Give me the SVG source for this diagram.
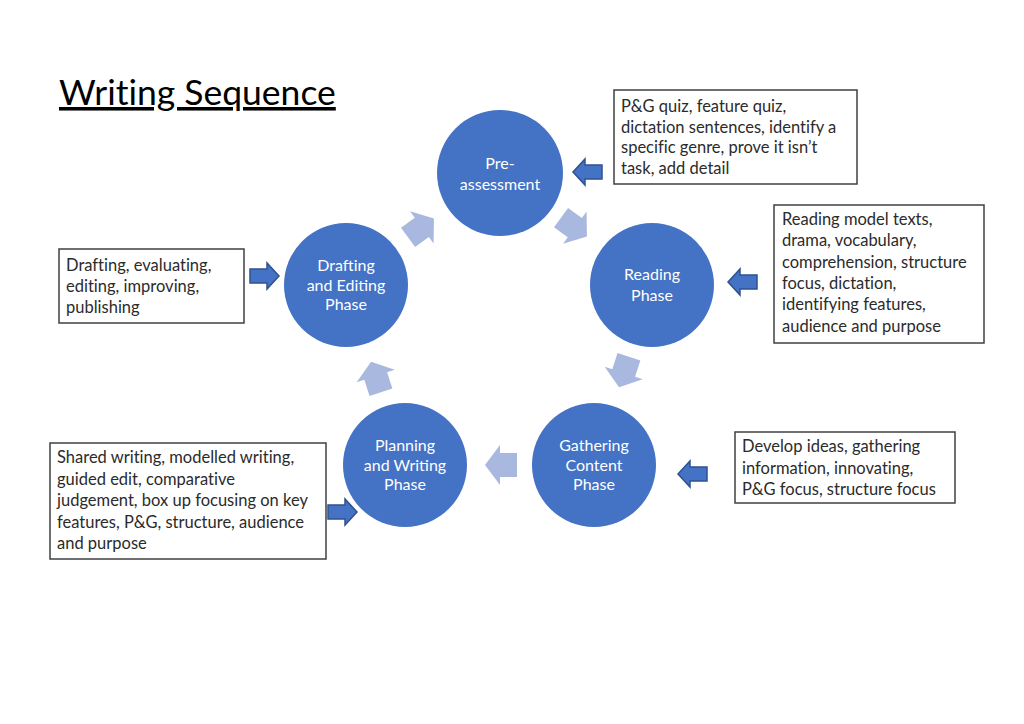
<svg xmlns="http://www.w3.org/2000/svg" width="1024" height="724" viewBox="0 0 1024 724">
<style>
.c{fill:#4472C4}
.ct{font-family:Lato,"Liberation Sans",sans-serif;font-size:16px;fill:#fff;text-anchor:middle}
.b{fill:#fff;stroke:#404040;stroke-width:1.5}
.bt{font-family:Lato,"Liberation Sans",sans-serif;font-size:16.5px;fill:#2b2b2b;font-variant-ligatures:none}
.la{fill:#A8B8DE}
.da{fill:#4472C4;stroke:#2F528F;stroke-width:1.5;stroke-linejoin:miter}
</style>
<defs>
<path id="light" d="M-16,-12 L1,-12 L1,-20 L16,0 L1,20 L1,12 L-16,12 Z"/>
<path id="darkL" d="M0,0 L12,-13 L12,-7 L29,-7 L29,7 L12,7 L12,13 Z"/>
<path id="darkR" d="M0,0 L-12,-13 L-12,-7 L-29,-7 L-29,7 L-12,7 L-12,13 Z"/>
</defs>
<rect width="1024" height="724" fill="#fff"/>
<text x="59" y="105" font-family="Lato,'Liberation Sans',sans-serif" font-size="35.5" fill="#000" text-decoration="underline" style="font-variant-ligatures:none">Writing Sequence</text>

<g id="connectors">
<use href="#light" class="la" transform="translate(574,227) rotate(36)"/>
<use href="#light" class="la" transform="translate(624,372) rotate(108)"/>
<use href="#light" class="la" transform="translate(501,465) rotate(180)"/>
<use href="#light" class="la" transform="translate(376,377) rotate(-108)"/>
<use href="#light" class="la" transform="translate(421,228) rotate(-36)"/>
<use href="#darkL" class="da" transform="translate(573,172)"/>
<use href="#darkL" class="da" transform="translate(728,282)"/>
<use href="#darkL" class="da" transform="translate(678,474)"/>
<use href="#darkR" class="da" transform="translate(279,276)"/>
<use href="#darkR" class="da" transform="translate(357,512)"/>
</g>

<g id="pre">
<circle class="c" cx="500" cy="173" r="63"/>
<text class="ct" x="500" y="169">Pre-</text>
<text class="ct" x="500" y="190">assessment</text>
</g>
<g id="reading">
<circle class="c" cx="652" cy="285" r="62"/>
<text class="ct" x="652" y="280">Reading</text>
<text class="ct" x="652" y="301">Phase</text>
</g>
<g id="gathering">
<circle class="c" cx="594" cy="465" r="62"/>
<text class="ct" x="594" y="451">Gathering</text>
<text class="ct" x="594" y="471">Content</text>
<text class="ct" x="594" y="490">Phase</text>
</g>
<g id="planning">
<circle class="c" cx="405" cy="465" r="62"/>
<text class="ct" x="405" y="451">Planning</text>
<text class="ct" x="405" y="471">and Writing</text>
<text class="ct" x="405" y="490">Phase</text>
</g>
<g id="drafting">
<circle class="c" cx="346" cy="285" r="62"/>
<text class="ct" x="346" y="271">Drafting</text>
<text class="ct" x="346" y="291">and Editing</text>
<text class="ct" x="346" y="310">Phase</text>
</g>

<g id="box-pre">
<rect class="b" x="614" y="90" width="243" height="94"/>
<text class="bt" x="621" y="112">P&amp;G quiz, feature quiz,</text>
<text class="bt" x="621" y="132.7">dictation sentences, identify a</text>
<text class="bt" x="621" y="153.3">specific genre, prove it isn’t</text>
<text class="bt" x="621" y="174">task, add detail</text>
</g>
<g id="box-reading">
<rect class="b" x="774" y="205" width="210" height="138"/>
<text class="bt" x="782" y="225">Reading model texts,</text>
<text class="bt" x="782" y="246.3">drama, vocabulary,</text>
<text class="bt" x="782" y="267.6">comprehension, structure</text>
<text class="bt" x="782" y="289">focus, dictation,</text>
<text class="bt" x="782" y="310.3">identifying features,</text>
<text class="bt" x="782" y="331.7">audience and purpose</text>
</g>
<g id="box-gathering">
<rect class="b" x="735" y="432" width="220" height="71"/>
<text class="bt" x="742" y="452">Develop ideas, gathering</text>
<text class="bt" x="742" y="473.5">information, innovating,</text>
<text class="bt" x="742" y="495">P&amp;G focus, structure focus</text>
</g>
<g id="box-planning">
<rect class="b" x="50" y="443" width="276" height="116"/>
<text class="bt" x="57" y="463">Shared writing, modelled writing,</text>
<text class="bt" x="57" y="484.5">guided edit, comparative</text>
<text class="bt" x="57" y="506">judgement, box up focusing on key</text>
<text class="bt" x="57" y="527.5">features, P&amp;G, structure, audience</text>
<text class="bt" x="57" y="549">and purpose</text>
</g>
<g id="box-drafting">
<rect class="b" x="59" y="249" width="185" height="74"/>
<text class="bt" x="66" y="271">Drafting, evaluating,</text>
<text class="bt" x="66" y="292">editing, improving,</text>
<text class="bt" x="66" y="313">publishing</text>
</g>
</svg>
